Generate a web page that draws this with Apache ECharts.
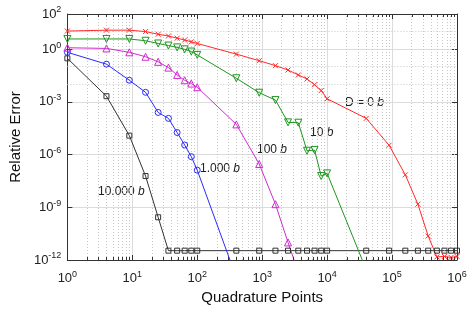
<!DOCTYPE html>
<html><head><meta charset="utf-8">
<script src="https://cdn.jsdelivr.net/npm/echarts@6/dist/echarts.min.js"></script>
<style>html,body{margin:0;padding:0;background:#fff}#c{width:474px;height:322px}</style>
</head><body><div id="c"></div>
<script>
// Quadrature points (x) shared by all series
const quadPoints = [1,4,9,16,25,36,49,64,81,100,400,900,1600,2500,3600,4900,6400,8100,10000,40000,90000,160000,250000,360000,490000,640000,810000,1000000];
const errD0 = [10.7,12,12,10,7,5.6,4.2,3.3,2.6,2.1,0.52,0.22,0.115,0.065,0.034,0.02,0.0095,0.0044,0.0015,1.15e-4,3.4e-6,7e-8,1.5e-9,2.3e-11,1.5e-12,1.6e-12,1.4e-12,1.6e-12];
const errD10 = [3.8,3.8,3.8,3.0,2.1,1.6,1.26,0.98,0.73,0.47,0.022,3.3e-3,1.26e-3,6.8e-5,6.5e-5,1.65e-6,1.8e-6,6e-8,8.5e-8,2.8e-13];
const errD100 = [1.2,1.1,0.66,0.37,0.19,0.089,0.034,0.017,0.011,6.8e-3,5.2e-5,2.9e-7,1.5e-9,1e-11,2e-13];
const errD1000 = [0.66,0.14,0.017,3.5e-3,2.5e-4,1.15e-4,1.8e-5,3.5e-6,7.6e-7,1.3e-7,1e-13];
const errD10000 = [0.3,2.1e-3,1.2e-5,6e-8,2.7e-10,3.4e-12,3.4e-12,3.4e-12,3.4e-12,3.4e-12,3.4e-12,3.4e-12,3.4e-12,3.4e-12,3.4e-12,3.4e-12,3.4e-12,3.4e-12,3.4e-12,3.4e-12,3.4e-12,3.4e-12,3.4e-12,3.4e-12,3.4e-12,3.4e-12,3.4e-12,3.4e-12];
const seriesNames = ['D = 0 b','10 b','100 b','1.000 b','10.000 b'];
const xMinorGrid = [2,3,4,5,6,7,8,9,20,30,40,50,60,70,80,90,200,300,400,500,600,700,800,900,2000,3000,4000,5000,6000,7000,8000,9000,20000,30000,40000,50000,60000,70000,80000,90000,200000,300000,400000,500000,600000,700000,800000,900000];
const yMinorGrid = [1e-11,1e-10,1e-8,1e-7,1e-5,1e-4,1e-2,1e-1,10];

const pairs = (ys) => ys.map((y,i)=>[quadPoints[i], y]);
const chart = echarts.init(document.getElementById('c'));
const FONT = 'Liberation Sans';
const supFmt = v => '{b|10}{s|' + Math.round(Math.log10(v)) + '}';
const rich = {b:{fontSize:13,fontFamily:FONT,color:'#222'}, s:{fontSize:9,fontFamily:FONT,color:'#222',padding:[0,0,8,0]}};
const cross = 'path://M0,0L10,10M10,0L0,10';
function mk(name, data, color, symbol, size, rotate){
  return {name, type:'line', data:pairs(data), symbol, symbolSize:size, symbolRotate:rotate||0,
    lineStyle:{color, width:1}, itemStyle:{color:'rgba(0,0,0,0)', borderColor:color, borderWidth:1},
    emphasis:{disabled:true}, animation:false, z:5, clip:true};
}
const gridLineSeries = {
  type:'line', data:[], silent:true, animation:false,
  markLine:{symbol:'none', silent:true, label:{show:false}, animation:false,
    lineStyle:{color:'#c8c8c8', type:[1,2], width:1},
    data: xMinorGrid.map(v=>({xAxis:v})).concat(yMinorGrid.map(v=>({yAxis:v})))}
};
const minorTickSeries = {
  type:'custom', silent:true, animation:false, z:10, clip:false,
  data: xMinorGrid.map(v=>[v]),
  renderItem: function(params, api){
    const b = api.coord([api.value(0), 1e-12]);
    const t = api.coord([api.value(0), 100]);
    const st = {stroke:'#333', lineWidth:1};
    return {type:'group', children:[
      {type:'line', shape:{x1:Math.round(b[0])+0.5, y1:b[1], x2:Math.round(b[0])+0.5, y2:b[1]-3}, style:st},
      {type:'line', shape:{x1:Math.round(t[0])+0.5, y1:t[1], x2:Math.round(t[0])+0.5, y2:t[1]+3}, style:st}
    ]};
  }
};
chart.setOption({
  animation:false,
  grid:{left:56, right:17, top:14, bottom:62, show:false},
  xAxis:[{type:'log', logBase:10, min:1, max:1e6, interval:1,
    axisLine:{show:true, onZero:false, lineStyle:{color:'#333'}},
    axisTick:{show:true, inside:true, length:5, lineStyle:{color:'#333'}},
    axisLabel:{formatter:supFmt, rich, margin:10},
    splitLine:{show:true, lineStyle:{color:'#dcdcdc', width:1}},
    name:'Quadrature Points', nameLocation:'middle', nameGap:26,
    nameTextStyle:{fontSize:15, fontFamily:FONT, color:'#111'}},
   {type:'log', logBase:10, min:1, max:1e6, interval:1, position:'top',
    axisLine:{show:true, onZero:false, lineStyle:{color:'#333'}},
    axisTick:{show:true, inside:true, length:5, lineStyle:{color:'#333'}},
    axisLabel:{show:false}, splitLine:{show:false}}],
  yAxis:[{type:'log', logBase:10, min:1e-12, max:100, interval:3,
    axisLine:{show:true, onZero:false, lineStyle:{color:'#333'}},
    axisTick:{show:true, inside:true, length:5, lineStyle:{color:'#333'}},
    axisLabel:{formatter:supFmt, rich, margin:6},
    splitLine:{show:true, lineStyle:{color:'#dcdcdc', width:1}},
    name:'Relative Error', nameLocation:'middle', nameGap:40,
    nameTextStyle:{fontSize:15, fontFamily:FONT, color:'#111'}},
   {type:'log', logBase:10, min:1e-12, max:100, interval:3, position:'right',
    axisLine:{show:true, onZero:false, lineStyle:{color:'#333'}},
    axisTick:{show:true, inside:true, length:5, lineStyle:{color:'#333'}},
    axisLabel:{show:false}, splitLine:{show:false}}],
  series:[
    gridLineSeries,
    minorTickSeries,
    mk(seriesNames[4], errD10000, '#333333', 'rect', 5),
    mk(seriesNames[3], errD1000, '#2a2aff', 'circle', 6),
    mk(seriesNames[2], errD100, '#d22ad2', 'triangle', 7),
    mk(seriesNames[1], errD10, '#1e961e', 'triangle', 7, 180),
    mk(seriesNames[0], errD0, '#ff2a2a', cross, 5)
  ],
  graphic:[
    {type:'text', left:345, top:97, style:{text:'D = 0 {i|b}', fontSize:12, fontFamily:FONT, fill:'#222', rich:{i:{fontStyle:'italic', fontSize:12, fontFamily:FONT, fill:'#222'}}}},
    {type:'text', left:310, top:127, style:{text:'10 {i|b}', fontSize:12, fontFamily:FONT, fill:'#222', rich:{i:{fontStyle:'italic', fontSize:12, fontFamily:FONT, fill:'#222'}}}},
    {type:'text', left:257, top:144, style:{text:'100 {i|b}', fontSize:12, fontFamily:FONT, fill:'#222', rich:{i:{fontStyle:'italic', fontSize:12, fontFamily:FONT, fill:'#222'}}}},
    {type:'text', left:200, top:163, style:{text:'1.000 {i|b}', fontSize:12, fontFamily:FONT, fill:'#222', rich:{i:{fontStyle:'italic', fontSize:12, fontFamily:FONT, fill:'#222'}}}},
    {type:'text', left:98, top:186, style:{text:'10.000 {i|b}', fontSize:12, fontFamily:FONT, fill:'#222', rich:{i:{fontStyle:'italic', fontSize:12, fontFamily:FONT, fill:'#222'}}}}
  ]
});
</script></body></html>
